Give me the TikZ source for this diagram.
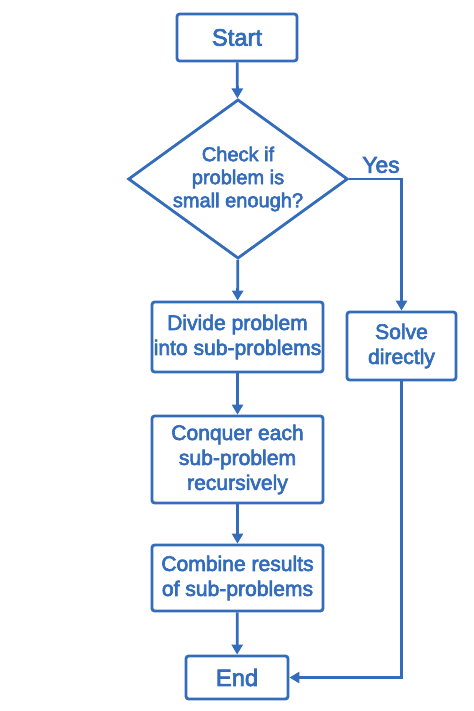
\documentclass[tikz,border=0pt]{standalone}
\usepackage{fontspec}
\setmainfont{Liberation Sans}[FakeBold=3]
\usepackage{xcolor}
\usetikzlibrary{positioning,calc,shapes.geometric,arrows.meta}
\definecolor{flowblue}{RGB}{52,108,188}

\begin{document}
\begin{tikzpicture}[
					stepbox/.style={rectangle, rounded corners=1.5pt, draw=flowblue, line width=1.6pt, fill=white, align=center, text=flowblue, inner sep=0pt, font=\fontsize{12}{14.2}\selectfont},
					check/.style={diamond, draw=flowblue, line width=1.6pt, aspect=1.38, inner sep=0pt, align=center, text=flowblue, font=\fontsize{11.4}{13.1}\selectfont},
					arrow/.style={-{Triangle[length=0.2cm,width=0.22cm]}, flowblue, line width=1.6pt},
					labeltext/.style={text=flowblue, font=\fontsize{13}{15}\selectfont}
					]
					\useasboundingbox (0,0) rectangle (9.48,-14.22);
					
					% ===== START =====
					\node[stepbox, minimum width=2.4cm, minimum height=0.94cm] (Start) at (4.74,-0.75) {\fontsize{13.5}{15}\selectfont Start};
					
					% ===== DECISION =====
					\node[check] (Check) at (4.76,-3.58) {Check if\\problem is\\small enough?};
					
					% ===== LEFT COLUMN =====
					\node[stepbox, minimum width=3.42cm, minimum height=1.4cm]  (Divide)  at (4.75,-6.74)  {Divide problem\\into sub-problems};
					\node[stepbox, minimum width=3.42cm, minimum height=1.74cm] (Conquer) at (4.75,-9.19)  {Conquer each\\sub-problem\\recursively};
					\node[stepbox, minimum width=3.42cm, minimum height=1.32cm] (Combine) at (4.75,-11.56) {Combine results\\of sub-problems};
					\node[stepbox, minimum width=2.04cm, minimum height=0.86cm] (End)     at (4.74,-13.55) {\fontsize{13.5}{15}\selectfont End};
					
					% ===== RIGHT COLUMN =====
					\node[stepbox, minimum width=2.18cm, minimum height=1.36cm] (Solve) at (8.03,-6.92) {Solve\\directly};
					
					% ===== ARROWS =====
					\draw[arrow] (Start) -- (Check);
					\draw[arrow] (Check) -- (Divide);
					\draw[arrow] (Divide) -- (Conquer);
					\draw[arrow] (Conquer) -- (Combine);
					\draw[arrow] (Combine) -- (End);
					
					\draw[arrow] (Check.east) -| (Solve.north);
					\draw[arrow] (Solve.south) |- (End.east);
					
					% ===== LABELS =====
					\node[labeltext] (lblYes) at (7.62,-3.3) {Yes};
				\end{tikzpicture}
\end{document}
